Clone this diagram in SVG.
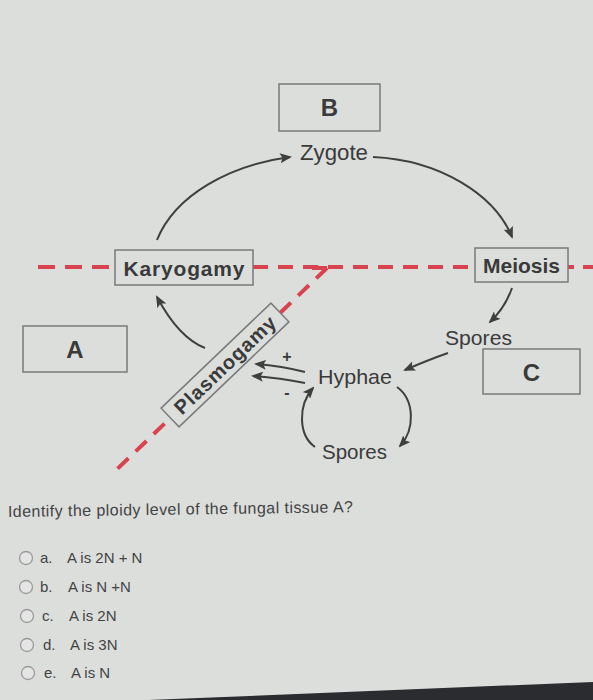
<svg xmlns="http://www.w3.org/2000/svg" width="593" height="700" viewBox="0 0 593 700">
<style>
.lbl{font-family:"Liberation Sans",Arial,sans-serif;fill:#3a3a3a}
.bold{font-weight:bold}
.box{fill:#dcdedc;stroke:#7a7a7a;stroke-width:1.5}
.arr{fill:none;stroke:#3f3f3f;stroke-width:2;marker-end:url(#ah)}
.red{fill:none;stroke:#d8434f;stroke-width:4;stroke-dasharray:15 10}
.opt{font-family:"Liberation Sans",Arial,sans-serif;font-size:15px;fill:#434343}
.radio{fill:#e4e5e4;stroke:#9a9a9a;stroke-width:1.3}
</style>
<defs>
<marker id="ah" markerUnits="userSpaceOnUse" markerWidth="12" markerHeight="10" refX="10" refY="5" orient="auto">
<path d="M0,0 L12,5 L0,10 L2.5,5 z" fill="#3f3f3f"/>
</marker>
</defs>
<rect width="593" height="700" fill="#dcdedc"/>
<g id="redlines">
<path class="red" d="M38,267 L115,267" style="stroke-dasharray:17 10"/>
<path class="red" d="M253,267 L475,267"/>
<path class="red" d="M568,267 L593,267" style="stroke-dasharray:6 9 15"/>
<path class="red" d="M327,268 L312,268 M327,268 L112,474"/>
</g>
<g id="connectors">
<path class="arr" d="M157,240 C175,195 230,165 290,157"/>
<path class="arr" d="M373,157 C440,160 495,195 512,237"/>
<path class="arr" d="M205,348 Q179,338 157,297"/>
<path class="arr" d="M305,372 Q282,366 256,364"/>
<path class="arr" d="M305,383 Q280,378 253,376"/>
<path class="arr" d="M448,353 Q428,360 405,370"/>
<path class="arr" d="M512,288 Q505,308 490,322"/>
<path class="arr" d="M397,387 C415,400 415,430 400,446"/>
<path class="arr" d="M315,447 C298,435 298,405 313,388"/>
<text class="lbl bold" x="287" y="362" font-size="16" text-anchor="middle">+</text>
<text class="lbl bold" x="287" y="398" font-size="16" text-anchor="middle">-</text>
</g>
<g id="nodeB">
<rect class="box" x="279" y="84" width="101" height="47"/>
<text class="lbl bold" x="329.5" y="116" font-size="24" text-anchor="middle">B</text>
</g>
<g id="zygote">
<text class="lbl" x="300" y="160" font-size="22" textLength="68" lengthAdjust="spacingAndGlyphs">Zygote</text>
</g>
<g id="karyogamy">
<rect class="box" x="115" y="250" width="138" height="35"/>
<text class="lbl bold" x="184" y="276" font-size="21" text-anchor="middle" textLength="121">Karyogamy</text>
</g>
<g id="meiosis">
<rect class="box" x="475" y="248" width="93" height="34"/>
<text class="lbl bold" x="521.5" y="273" font-size="21" text-anchor="middle">Meiosis</text>
</g>
<g id="nodeA">
<rect class="box" x="23" y="326" width="104" height="46"/>
<text class="lbl bold" x="75" y="358" font-size="24" text-anchor="middle">A</text>
</g>
<g id="plasmogamy" transform="translate(225,365) rotate(-43.7)">
<rect class="box" x="-76" y="-13" width="152" height="26"/>
<text class="lbl bold" x="0" y="7" font-size="20" text-anchor="middle" textLength="132">Plasmogamy</text>
</g>
<g id="sporesTop">
<text class="lbl" x="445" y="345" font-size="21" textLength="67" lengthAdjust="spacingAndGlyphs">Spores</text>
</g>
<g id="nodeC">
<rect class="box" x="483" y="349" width="97" height="45"/>
<text class="lbl bold" x="531.5" y="381" font-size="24" text-anchor="middle">C</text>
</g>
<g id="hyphae">
<text class="lbl" x="318" y="384" font-size="21" textLength="74" lengthAdjust="spacingAndGlyphs">Hyphae</text>
</g>
<g id="sporesBottom">
<text class="lbl" x="322" y="459" font-size="21" textLength="65" lengthAdjust="spacingAndGlyphs">Spores</text>
</g>
<g id="question">
<text class="opt" x="8" y="517" font-size="16" style="font-size:16px" transform="rotate(-0.8 8 517)" textLength="345">Identify the ploidy level of the fungal tissue A?</text>
<circle class="radio" cx="26" cy="558" r="6.5"/>
<text class="opt" x="40" y="563">a.</text>
<text class="opt" x="67" y="563">A is 2N + N</text>
<circle class="radio" cx="26" cy="587" r="6.5"/>
<text class="opt" x="40" y="592">b.</text>
<text class="opt" x="68" y="592">A is N +N</text>
<circle class="radio" cx="27" cy="616" r="6.5"/>
<text class="opt" x="42" y="621">c.</text>
<text class="opt" x="69" y="621">A is 2N</text>
<circle class="radio" cx="27" cy="645" r="6.5"/>
<text class="opt" x="43" y="650">d.</text>
<text class="opt" x="70" y="650">A is 3N</text>
<circle class="radio" cx="28" cy="673" r="6.5"/>
<text class="opt" x="44" y="678">e.</text>
<text class="opt" x="71" y="678">A is N</text>
</g>
<polygon points="148,700 593,682 593,700" fill="#2a2c30"/>
</svg>
